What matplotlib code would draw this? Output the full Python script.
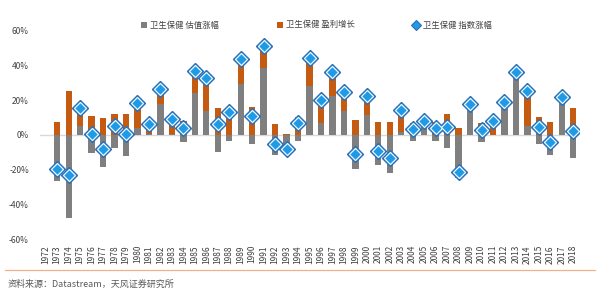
import numpy as np
import matplotlib
matplotlib.use("Agg")
import matplotlib.pyplot as plt
from matplotlib.lines import Line2D
from matplotlib.patches import Patch

plt.rcParams['font.family'] = ['Noto Sans CJK SC', 'DejaVu Sans']

years = [str(y) for y in range(1972, 2019)]
valuation = [None, -26.4, -47.8, 5.0, -10.5, -18.2, -7.6, -11.9, 3.8, 0.5, 17.8,
             0.5, -4.2, 24.3, 13.8, -9.6, -3.3, 29.0, -5.0, 38.6, -11.5,
             -8.5, -3.4, 28.1, 7.1, 22.6, 13.8, -19.7, 11.5, -17.2, -21.6,
             1.5, -3.4, 6.7, -3.2, -7.6, -24.9, 15.3, -4.2, 0.0, 17.0,
             36.0, 5.2, -5.4, -11.5, 21.5, -13.0]
earnings = [None, 7.3, 25.2, 10.3, 11.1, 10.0, 12.2, 11.9, 14.4, 5.6, 8.6,
            8.5, 8.0, 12.7, 18.7, 15.3, 16.3, 14.4, 16.0, 12.3, 6.1,
            0.3, 10.3, 15.9, 12.8, 13.4, 11.1, 8.6, 10.7, 7.6, 7.6,
            12.8, 6.7, 1.3, 7.2, 12.0, 3.8, 2.5, 6.9, 8.0, 1.7,
            0.0, 20.0, 10.1, 7.5, 0.5, 15.7]
index_chg = [None, -19.5, -23.0, 15.3, 0.8, -8.0, 5.2, 0.4, 18.2, 6.1, 26.4,
             9.2, 3.8, 37.0, 32.5, 6.1, 13.0, 43.4, 11.1, 50.9, -5.2,
             -8.0, 6.9, 44.0, 19.9, 36.0, 24.9, -10.7, 22.2, -9.2, -13.4,
             14.3, 3.3, 8.0, 4.0, 4.4, -21.0, 17.8, 2.9, 8.0, 18.7,
             36.0, 25.2, 4.8, -4.0, 22.0, 2.5]
series_names = ['卫生保健 估值涨幅', '卫生保健 盈利增长', '卫生保健 指数涨幅']
source_text = '资料来源：Datastream，天风证券研究所'

def arr(v):
    return np.array([np.nan if x is None else x for x in v], dtype=float) / 100.0

g = arr(valuation)
o = arr(earnings)
d = arr(index_chg)
x = np.arange(len(years))

gray = '#7f7f7f'
orange = '#c55a11'
blue = '#1e9be6'
blue_edge = '#2e6fb5'

fig = plt.figure(figsize=(6.0, 2.93), dpi=100)
ax = fig.add_axes([40/600, 1-239.5/293, 539/600, 209/293])

bw = 0.55
ax.bar(x, g, width=bw, color=gray, zorder=2)
o_bottom = np.where(o >= 0, np.where(g > 0, g, 0), np.where(g < 0, g, 0))
ax.bar(x, o, bottom=o_bottom, width=bw, color=orange, zorder=2)
ax.plot(x, d, linestyle='none', marker='D', ms=8.5, mfc=blue, mec=blue_edge, mew=1.0, zorder=3)
ax.plot(x, d, linestyle='none', marker='D', ms=5.8, mfc=blue, mec='white', mew=0.8, zorder=4)

ax.axhline(0, color='#d9d9d9', lw=1.0, zorder=1)
ax.set_xlim(-0.5, len(years) - 0.5)
ax.set_ylim(-0.6, 0.6)
ax.set_yticks(np.arange(-0.6, 0.61, 0.2))
ax.set_yticklabels([f'{int(round(v*100))}%' for v in np.arange(-0.6, 0.61, 0.2)])
ax.set_xticks(x)
ax.set_xticklabels(years, rotation=90)
ax.tick_params(axis='both', length=0, labelsize=6, colors='#404040')
ax.tick_params(axis='y', pad=8)
ax.tick_params(axis='x', pad=4)
for s in ax.spines.values():
    s.set_visible(False)

handles = [Patch(facecolor=gray, edgecolor='none'),
           Patch(facecolor=orange, edgecolor='none'),
           Line2D([], [], linestyle='none', marker='D', ms=5, mfc=blue, mec=blue_edge, mew=0.8)]
leg = fig.legend(handles, series_names, loc='center', bbox_to_anchor=(0.527, 1-25/293),
                 ncol=3, frameon=False, fontsize=6, handlelength=0.7, handleheight=0.7,
                 handletextpad=0.4, columnspacing=7.0, labelcolor='#404040')

fig.add_artist(Line2D([5/600, 595/600], [1-270/293, 1-270/293], color='#f4b183', lw=0.9))
fig.text(8/600, 1-284/293, source_text, fontsize=6.5, color='#595959', va='center', ha='left')

fig.savefig('out.png', dpi=100)
